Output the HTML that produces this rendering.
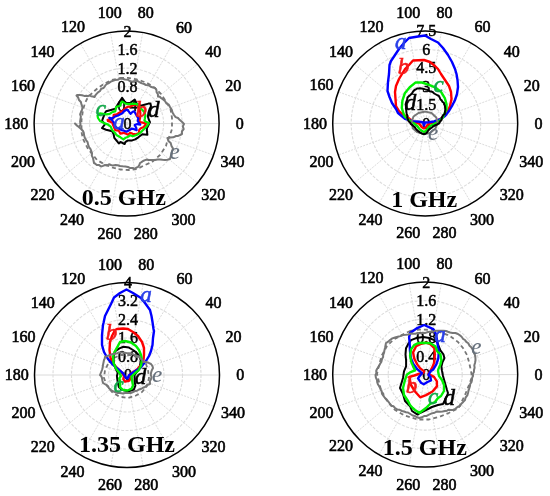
<!DOCTYPE html><html><head><meta charset="utf-8"><style>html,body{margin:0;padding:0;background:#fff;}svg{display:block}text{font-family:"Liberation Serif","Times New Roman",serif;}</style></head><body>
<svg width="550" height="496" viewBox="0 0 550 496">
<rect width="550" height="496" fill="#fff"/>
<g stroke="#dadada" stroke-width="1" fill="none"><line x1="126.6" y1="123.6" x2="219.1" y2="123.6"/><line x1="126.6" y1="123.6" x2="213.5" y2="92" stroke-dasharray="2 1.2" stroke="#dcdcdc"/><line x1="126.6" y1="123.6" x2="197.5" y2="64.1" stroke-dasharray="2 1.2" stroke="#dcdcdc"/><line x1="126.6" y1="123.6" x2="172.8" y2="43.5" stroke-dasharray="2 1.2" stroke="#dcdcdc"/><line x1="126.6" y1="123.6" x2="142.7" y2="32.5" stroke-dasharray="2 1.2" stroke="#dcdcdc"/><line x1="126.6" y1="123.6" x2="110.5" y2="32.5" stroke-dasharray="2 1.2" stroke="#dcdcdc"/><line x1="126.6" y1="123.6" x2="80.4" y2="43.5" stroke-dasharray="2 1.2" stroke="#dcdcdc"/><line x1="126.6" y1="123.6" x2="55.7" y2="64.1" stroke-dasharray="2 1.2" stroke="#dcdcdc"/><line x1="126.6" y1="123.6" x2="39.7" y2="92" stroke-dasharray="2 1.2" stroke="#dcdcdc"/><line x1="126.6" y1="123.6" x2="34.1" y2="123.6"/><line x1="126.6" y1="123.6" x2="39.7" y2="155.2" stroke-dasharray="2 1.2" stroke="#dcdcdc"/><line x1="126.6" y1="123.6" x2="55.7" y2="183.1" stroke-dasharray="2 1.2" stroke="#dcdcdc"/><line x1="126.6" y1="123.6" x2="80.3" y2="203.7" stroke-dasharray="2 1.2" stroke="#dcdcdc"/><line x1="126.6" y1="123.6" x2="110.5" y2="214.7" stroke-dasharray="2 1.2" stroke="#dcdcdc"/><line x1="126.6" y1="123.6" x2="142.7" y2="214.7" stroke-dasharray="2 1.2" stroke="#dcdcdc"/><line x1="126.6" y1="123.6" x2="172.8" y2="203.7" stroke-dasharray="2 1.2" stroke="#dcdcdc"/><line x1="126.6" y1="123.6" x2="197.5" y2="183.1" stroke-dasharray="2 1.2" stroke="#dcdcdc"/><line x1="126.6" y1="123.6" x2="213.5" y2="155.2" stroke-dasharray="2 1.2" stroke="#dcdcdc"/></g>
<g stroke="#dcdcdc" stroke-width="1.1" fill="none" stroke-dasharray="3 1.5"><circle cx="126.6" cy="123.6" r="18.5"/><circle cx="126.6" cy="123.6" r="37"/><circle cx="126.6" cy="123.6" r="55.5"/><circle cx="126.6" cy="123.6" r="74"/></g>
<g font-size="16" text-anchor="middle" fill="#000" stroke="#000" stroke-width="0.5"><text x="127.6" y="129">0</text><text x="127.6" y="110.5">0.4</text><text x="127.6" y="92">0.8</text><text x="127.6" y="73.5">1.2</text><text x="127.6" y="55">1.6</text><text x="127.6" y="36.5">2</text></g>
<path d="M120 78 L128 77.8 L137 79.5 L143 81.5 L147 83 L155 88 L161 94 L165 100 L170.5 109 L172 118 L172 129 L170 135 L167 142 L166 146 L160 155 L152 162 L144 165.5 L137 169 L129 170 L120 169.5 L112 167.5 L104 164 L97 160 L95 157.5 L88 149 L83 139 L81.5 132 L81.5 120 L83 110 L85 103 L88 97 L95 90.5 L98 88 L104 84 L111 80.2 Z" fill="none" stroke="#777777" stroke-width="1.8" stroke-linejoin="round" stroke-dasharray="4 3"/>
<path d="M102 121 L103.1 117.9 L105.1 112.8 L106.1 111.3 L110 110.2 L115.3 108.7 L118 104 L122.1 97.8 L124.4 101.1 L126.5 103.1 L130 103 L134.7 99.6 L137 104 L140.8 105.7 L144.4 104.7 L148.4 103.6 L150.5 103.6 L151 106.2 L149.5 109.2 L148.4 112.8 L147.9 116.4 L148.9 119.9 L150 122.1 L146.9 128.2 L146.9 130.7 L147.4 134.8 L142.3 134.3 L138.3 137.3 L135.2 139.4 L132.1 140.4 L128 140.4 L125.5 141.9 L124.6 144 L120.4 141.9 L118.8 143.4 L116.8 140.9 L114.3 137.8 L113.7 134.3 L112.2 131.2 L106.1 129.7 L102 128.1 L105.1 124.1 Z" fill="none" stroke="#000" stroke-width="2" stroke-linejoin="round"/>
<path d="M107.6 119.9 L110.5 119.5 L113.2 118.4 L113.7 114.8 L116.8 114.3 L119.3 112.8 L121.9 111.3 L123.9 109.7 L126 107.7 L128 106.7 L130.1 106.7 L133.2 105.2 L137 104.5 L140 110 L140.5 116 L139.5 120.5 L139.8 122.1 L142.8 122.6 L145.9 123.6 L145.4 125.1 L143.3 127.2 L140.8 128.2 L139.3 129.7 L138.8 133.3 L135.7 134.3 L132.7 133.8 L130.1 132.8 L128.1 134.8 L124 132.8 L122.9 133.2 L120.4 133.7 L118.8 130.7 L115.3 130.2 L113.5 126 L112.2 122.5 L108 121 Z" fill="none" stroke="#ff0000" stroke-width="2.2" stroke-linejoin="round"/>
<path d="M109.2 117.9 L112.2 118.4 L115.3 116.4 L118 115.5 L120.4 114.3 L122.4 113.3 L124 111.3 L126.5 109.7 L127.1 109.7 L129.1 111.8 L130.6 113.8 L132.7 111.8 L134.2 111.3 L136 114.5 L138.3 118.4 L137.7 121.1 L140.3 124.6 L137.2 124.1 L134.7 125.1 L136.2 127.7 L136.7 130.2 L134.2 129.2 L131.6 128.7 L129.1 130.2 L126.5 131.7 L124 130.7 L121.4 130.2 L120 129 L117 128 L115 126 L114 123 L112 120 Z" fill="none" stroke="#0000ff" stroke-width="2.2" stroke-linejoin="round"/>
<path d="M97.5 115.5 L100 113.3 L103.1 113.8 L106.6 114.3 L109.7 113.8 L112.7 111.8 L115.3 111.3 L115.8 108.7 L116.3 106.7 L118.3 106.2 L120.4 105.7 L120.9 103.6 L121.9 101.6 L123.9 102.6 L125.5 103.6 L129.1 104.1 L133.2 103.6 L137.2 104.1 L140.8 108.2 L144.4 112.3 L145.4 115.3 L144.9 118.4 L144.4 120.5 L146.4 122.1 L148.9 123.1 L147.9 124.6 L146.4 126.7 L144.4 128.7 L142.3 130.7 L140.8 132.3 L137.5 134.5 L135.7 135.3 L132.7 136.3 L130.1 135.3 L127.1 137.3 L125.5 137.8 L123.4 139.3 L120.4 137.3 L116.8 135.3 L114.8 132.7 L112.2 130.2 L110.7 126.6 L108.1 124.6 L104.1 123.1 L100 121 L98 118 Z" fill="none" stroke="#00f000" stroke-width="2.2" stroke-linejoin="round"/>
<path d="M120 78.5 L122.6 78.7 L125 79.5 L127.8 79.7 L130.3 81.3 L133 81.8 L135 81 L137.7 81.1 L140 82.5 L142 83.4 L144.1 84 L146 85 L148.6 85.2 L150.7 86.7 L153 87.5 L155 88 L156.4 89.9 L156.6 92.2 L157.9 94.1 L158 96.5 L159.8 96.7 L161 98 L163.1 99.4 L165 101 L166.3 103.3 L168.8 104.6 L170 107 L171.7 109.5 L172.5 112.4 L174 115 L175.6 117.1 L178 118 L179.9 120.1 L182.1 121.9 L184 124 L182.8 126.4 L183.7 129.1 L181.9 131.4 L182 134 L180.1 135 L178.2 135.9 L176 136 L173.3 137.3 L170.4 137.6 L167.5 138 L168.4 140.9 L170.7 143 L171.5 145.9 L173 148.5 L172 151.1 L171.7 153.8 L170.7 156.4 L170 159 L167.5 159.8 L165 160 L162.5 159.8 L160 159.5 L157.5 159.5 L155 160 L152.5 160.1 L150 160 L148.5 160 L147 159.5 L145 160.1 L143 161 L141.5 162.1 L140 163 L139.3 165.1 L138 167 L136.2 167.6 L135 169 L132.8 168 L130.2 168.1 L128 167 L125.3 166.5 L122.7 166.3 L120 166 L117.8 165.2 L115.5 165.1 L113.2 165.6 L111 165 L109 164.2 L107 165.6 L105 165 L103 165.9 L101 166.5 L99.2 165.1 L96.8 165 L95 163.5 L94 163 L93.5 160.5 L93 158 L91.8 155.6 L92 153 L91.2 150.9 L90.4 148.8 L89 147 L88.1 144.6 L87.6 142.1 L86 140 L84.7 137.6 L84 135 L83.8 132.9 L83 131 L81.1 129 L79.1 127.2 L77 125.4 L75 123.5 L76.9 125.7 L79.5 127 L80.5 124.4 L80.1 121.7 L80.5 119 L80.9 116.7 L80.1 114.3 L81 112 L82.1 109.6 L82.5 107 L81.5 104.6 L80.9 102 L79 100 L78.2 97.5 L76.5 95.5 L77.5 95 L79.8 94.9 L82 95.2 L84.2 95.9 L86.5 95.8 L88 96.2 L89.5 95.4 L91 96.2 L92.8 96.5 L94.5 97 L95.9 94.6 L97.7 92.6 L100 91 L101.2 88.8 L103.6 88 L105 86 L106.6 84 L109 83 L110.8 81.6 L112.9 80.8 L115 80 L117.7 79.8 Z" fill="none" stroke="#777777" stroke-width="2" stroke-linejoin="round"/>
<text x="113.15" y="129.05" font-size="23" font-style="italic" fill="#2a40e8" stroke="#2a40e8" stroke-width="0.6">a</text>
<text x="135.5" y="117.35" font-size="23" font-style="italic" fill="#f51a1a" stroke="#f51a1a" stroke-width="0.6">b</text>
<text x="95.85" y="116.0" font-size="23" font-style="italic" fill="#12a84a" stroke="#12a84a" stroke-width="0.6">c</text>
<text x="148" y="117.3" font-size="23" font-style="italic" fill="#000" stroke="#000" stroke-width="0.6">d</text>
<text x="169.55" y="159.2" font-size="23" font-style="italic" fill="#66707c" stroke="#66707c" stroke-width="0.15">e</text>
<circle cx="126.6" cy="123.6" r="92.5" fill="none" stroke="#000" stroke-width="1.5"/>
<g font-size="16" text-anchor="middle" fill="#000" stroke="#000" stroke-width="0.6"><text x="239.8" y="128.7">0</text><text x="233.2" y="91">20</text><text x="213.2" y="57">40</text><text x="184.1" y="32.6">60</text><text x="145.8" y="18.3">80</text><text x="109.7" y="18.3">100</text><text x="72.9" y="32.4">120</text><text x="42.4" y="57">140</text><text x="23" y="90.6">160</text><text x="16.3" y="128.7">180</text><text x="23" y="166.8">200</text><text x="42.4" y="200.4">220</text><text x="72" y="225.3">240</text><text x="109.6" y="238.5">260</text><text x="145.8" y="238.5">280</text><text x="183.6" y="225.3">300</text><text x="213.2" y="200.4">320</text><text x="232.6" y="166.8">340</text></g>
<text x="123.8" y="205.3" font-size="24" font-weight="bold" text-anchor="middle">0.5 GHz</text>
<g stroke="#dadada" stroke-width="1" fill="none"><line x1="425.2" y1="123.4" x2="517.7" y2="123.4"/><line x1="425.2" y1="123.4" x2="512.1" y2="91.8" stroke-dasharray="2 1.2" stroke="#dcdcdc"/><line x1="425.2" y1="123.4" x2="496.1" y2="63.9" stroke-dasharray="2 1.2" stroke="#dcdcdc"/><line x1="425.2" y1="123.4" x2="471.4" y2="43.3" stroke-dasharray="2 1.2" stroke="#dcdcdc"/><line x1="425.2" y1="123.4" x2="441.3" y2="32.3" stroke-dasharray="2 1.2" stroke="#dcdcdc"/><line x1="425.2" y1="123.4" x2="409.1" y2="32.3" stroke-dasharray="2 1.2" stroke="#dcdcdc"/><line x1="425.2" y1="123.4" x2="378.9" y2="43.3" stroke-dasharray="2 1.2" stroke="#dcdcdc"/><line x1="425.2" y1="123.4" x2="354.3" y2="63.9" stroke-dasharray="2 1.2" stroke="#dcdcdc"/><line x1="425.2" y1="123.4" x2="338.3" y2="91.8" stroke-dasharray="2 1.2" stroke="#dcdcdc"/><line x1="425.2" y1="123.4" x2="332.7" y2="123.4"/><line x1="425.2" y1="123.4" x2="338.3" y2="155" stroke-dasharray="2 1.2" stroke="#dcdcdc"/><line x1="425.2" y1="123.4" x2="354.3" y2="182.9" stroke-dasharray="2 1.2" stroke="#dcdcdc"/><line x1="425.2" y1="123.4" x2="378.9" y2="203.5" stroke-dasharray="2 1.2" stroke="#dcdcdc"/><line x1="425.2" y1="123.4" x2="409.1" y2="214.5" stroke-dasharray="2 1.2" stroke="#dcdcdc"/><line x1="425.2" y1="123.4" x2="441.3" y2="214.5" stroke-dasharray="2 1.2" stroke="#dcdcdc"/><line x1="425.2" y1="123.4" x2="471.4" y2="203.5" stroke-dasharray="2 1.2" stroke="#dcdcdc"/><line x1="425.2" y1="123.4" x2="496.1" y2="182.9" stroke-dasharray="2 1.2" stroke="#dcdcdc"/><line x1="425.2" y1="123.4" x2="512.1" y2="155" stroke-dasharray="2 1.2" stroke="#dcdcdc"/></g>
<g stroke="#dcdcdc" stroke-width="1.1" fill="none" stroke-dasharray="3 1.5"><circle cx="425.2" cy="123.4" r="18.5"/><circle cx="425.2" cy="123.4" r="37"/><circle cx="425.2" cy="123.4" r="55.5"/><circle cx="425.2" cy="123.4" r="74"/></g>
<g font-size="16" text-anchor="middle" fill="#000" stroke="#000" stroke-width="0.5"><text x="426.2" y="128.8">0</text><text x="426.2" y="110.3">1.5</text><text x="426.2" y="91.8">3</text><text x="426.2" y="73.3">4.5</text><text x="426.2" y="54.8">6</text><text x="426.2" y="36.3">7.5</text></g>
<path d="M423.9 128.4 L421.7 126.9 L419.5 124 L415.9 122.5 L412.3 121.1 L406 116 L402 114 L399 111 L396 106 L395.5 99 L395 92 L396 86 L399 79 L402 74 L405 69 L409 65 L413 60.5 L424 60 L430 62 L435 66 L438 69 L441 74 L445 80 L449 86 L451 92 L451.5 99 L450 106 L448 111 L445 115 L441.4 118.2 L437 121.1 L432.6 122.5 L428.3 124 L426.1 126.9 Z" fill="none" stroke="#ff0000" stroke-width="2.4" stroke-linejoin="round"/>
<path d="M423.9 125.5 L423.2 122.5 L419.5 121.8 L412.3 121.1 L405 118.9 L398 113 L396 109 L392 103 L389.5 97 L387.5 91 L388 82 L389 74 L389.5 65 L391 61 L395 55 L399 49 L404 43 L409 38 L418 36.5 L425 35.5 L431 39 L438 42.5 L443 48 L448 55 L452 62 L455 69 L456.5 74 L457.5 80 L458 87 L457 94 L455 100 L452 106 L449 111 L445 116 L440 119.5 L434.1 121.5 L429 122.2 L425 122.5 Z" fill="none" stroke="#0000ff" stroke-width="2.4" stroke-linejoin="round"/>
<path d="M424.6 132 L422.5 131.3 L419.5 129.1 L417.4 126.2 L413.7 123.3 L409.4 120.4 L405 116.7 L403.6 113.9 L401.8 107.8 L402.4 100.6 L404.8 93.3 L409.7 87.3 L415.7 82.4 L422 82.5 L429 84.8 L435.1 87.3 L441.2 92.1 L444.8 98.2 L446.5 104.2 L446.5 109 L444.8 113 L442.8 117.5 L438.5 121.8 L434.1 124 L429.7 126.2 L426.8 129.8 Z" fill="none" stroke="#00f000" stroke-width="2.4" stroke-linejoin="round"/>
<path d="M425.4 111.6 L418.5 113 L413.5 116.5 L411.5 122.5 L413 128.4 L417 132 L424 134 L430 133 L435.5 128.4 L437.7 122.5 L436.3 117.5 L431.5 113 Z" fill="none" stroke="#777777" stroke-width="2" stroke-linejoin="round"/>
<path d="M423.9 134.2 L422 133.6 L420.3 132.7 L418.9 131.6 L417.4 130.5 L415.9 128.8 L414.5 126.9 L412.7 125.4 L410.8 124 L410 122.4 L408.6 121.2 L408 119.5 L407.2 117.7 L407.5 115.8 L406.8 114 L406.4 112.2 L406.3 110.3 L405.9 108.4 L406.2 106.4 L405.6 104.5 L406.2 102.2 L407.1 99.9 L407.5 97.5 L409 96.1 L410.6 94.8 L412.1 93.3 L413.1 91.5 L414.5 90 L415.8 89.3 L417 88.5 L418.5 88.6 L420 88.2 L421.5 88.5 L423 88.8 L425.4 89.4 L427.8 89.7 L428.8 90.7 L430 91.5 L431.4 91.5 L432.7 92.1 L434.2 93.5 L436 94.5 L437.3 95.2 L438.7 95.7 L439.7 97.5 L440.5 99.5 L441.7 100.4 L442.4 101.8 L444 103 L444.1 104.3 L444.8 105.4 L445.1 107.7 L445.3 110 L444.9 111.9 L444.8 113.9 L443.4 114.9 L442.4 116.3 L441.8 118.1 L441.5 120 L440.1 121.5 L439.2 123.3 L437 124.5 L434.8 125.5 L433.2 126.3 L432 127.5 L430.5 128.4 L429 129.6 L427.8 131.1 L426.8 132.7 L425.5 133.7 Z" fill="none" stroke="#000" stroke-width="2" stroke-linejoin="round"/>
<text x="395.0" y="48.5" font-size="23" font-style="italic" fill="#2a40e8" stroke="#2a40e8" stroke-width="0.6">a</text>
<text x="397.7" y="74.4" font-size="23" font-style="italic" fill="#f51a1a" stroke="#f51a1a" stroke-width="0.6">b</text>
<text x="433.6" y="92.2" font-size="23" font-style="italic" fill="#12a84a" stroke="#12a84a" stroke-width="0.6">c</text>
<text x="404.75" y="110.35" font-size="23" font-style="italic" fill="#000" stroke="#000" stroke-width="0.6">d</text>
<text x="428" y="140.35" font-size="23" font-style="italic" fill="#66707c" stroke="#66707c" stroke-width="0.15">e</text>
<circle cx="425.2" cy="123.4" r="92.5" fill="none" stroke="#000" stroke-width="1.5"/>
<g font-size="16" text-anchor="middle" fill="#000" stroke="#000" stroke-width="0.6"><text x="538.4" y="128.5">0</text><text x="531.8" y="90.8">20</text><text x="511.8" y="56.8">40</text><text x="482.6" y="32.4">60</text><text x="444.4" y="18.1">80</text><text x="408.3" y="18.1">100</text><text x="371.4" y="32.2">120</text><text x="341" y="56.8">140</text><text x="321.6" y="90.4">160</text><text x="314.9" y="128.5">180</text><text x="321.6" y="166.6">200</text><text x="341" y="200.2">220</text><text x="370.6" y="225.1">240</text><text x="408.2" y="238.3">260</text><text x="444.4" y="238.3">280</text><text x="482.1" y="225.1">300</text><text x="511.8" y="200.2">320</text><text x="531.2" y="166.6">340</text></g>
<text x="424.2" y="207" font-size="24" font-weight="bold" text-anchor="middle">1 GHz</text>
<g stroke="#dadada" stroke-width="1" fill="none"><line x1="127" y1="375" x2="219.5" y2="375"/><line x1="127" y1="375" x2="213.9" y2="343.4" stroke-dasharray="2 1.2" stroke="#dcdcdc"/><line x1="127" y1="375" x2="197.9" y2="315.5" stroke-dasharray="2 1.2" stroke="#dcdcdc"/><line x1="127" y1="375" x2="173.2" y2="294.9" stroke-dasharray="2 1.2" stroke="#dcdcdc"/><line x1="127" y1="375" x2="143.1" y2="283.9" stroke-dasharray="2 1.2" stroke="#dcdcdc"/><line x1="127" y1="375" x2="110.9" y2="283.9" stroke-dasharray="2 1.2" stroke="#dcdcdc"/><line x1="127" y1="375" x2="80.8" y2="294.9" stroke-dasharray="2 1.2" stroke="#dcdcdc"/><line x1="127" y1="375" x2="56.1" y2="315.5" stroke-dasharray="2 1.2" stroke="#dcdcdc"/><line x1="127" y1="375" x2="40.1" y2="343.4" stroke-dasharray="2 1.2" stroke="#dcdcdc"/><line x1="127" y1="375" x2="34.5" y2="375"/><line x1="127" y1="375" x2="40.1" y2="406.6" stroke-dasharray="2 1.2" stroke="#dcdcdc"/><line x1="127" y1="375" x2="56.1" y2="434.5" stroke-dasharray="2 1.2" stroke="#dcdcdc"/><line x1="127" y1="375" x2="80.7" y2="455.1" stroke-dasharray="2 1.2" stroke="#dcdcdc"/><line x1="127" y1="375" x2="110.9" y2="466.1" stroke-dasharray="2 1.2" stroke="#dcdcdc"/><line x1="127" y1="375" x2="143.1" y2="466.1" stroke-dasharray="2 1.2" stroke="#dcdcdc"/><line x1="127" y1="375" x2="173.2" y2="455.1" stroke-dasharray="2 1.2" stroke="#dcdcdc"/><line x1="127" y1="375" x2="197.9" y2="434.5" stroke-dasharray="2 1.2" stroke="#dcdcdc"/><line x1="127" y1="375" x2="213.9" y2="406.6" stroke-dasharray="2 1.2" stroke="#dcdcdc"/></g>
<g stroke="#dcdcdc" stroke-width="1.1" fill="none" stroke-dasharray="3 1.5"><circle cx="127.0" cy="375.0" r="18.5"/><circle cx="127.0" cy="375.0" r="37"/><circle cx="127.0" cy="375.0" r="55.5"/><circle cx="127.0" cy="375.0" r="74"/></g>
<g font-size="16" text-anchor="middle" fill="#000" stroke="#000" stroke-width="0.5"><text x="128" y="380.4">0</text><text x="128" y="361.9">0.8</text><text x="128" y="343.4">1.6</text><text x="128" y="324.9">2.4</text><text x="128" y="306.4">3.2</text><text x="128" y="287.9">4</text></g>
<path d="M108 364 L105 370 L104 378 L107 386 L112 392 L119 396.5 L128 398 L136 395.5 L142 392 L147 386 L149 378 L148 370 L146 364 L140 358 L130 355 L120 355 L112 359 Z" fill="none" stroke="#777777" stroke-width="1.8" stroke-linejoin="round" stroke-dasharray="4 3"/>
<path d="M115.3 351.3 L119.4 348.4 L123.4 346.8 L129 347.6 L133 350 L136.2 352.4 L138.6 355 L140.8 360 L140 366 L137.8 371 L134.6 375 L134.6 381.6 L135.4 385.6 L133.8 389.7 L128.2 391.3 L121.7 389.7 L118.8 387 L117.5 381 L116.9 376 L117.7 372.7 L115.5 368.5 L113.8 363 L113.5 357 Z" fill="none" stroke="#000" stroke-width="2" stroke-linejoin="round"/>
<path d="M117 329 L123 328.5 L128 329 L133 332 L138 336 L142 342 L144 348 L144 355 L143.5 359.8 L141 365 L137 369.5 L132.2 372.7 L129.8 374.4 L131.4 377.6 L129 380.8 L124.9 381.6 L123.3 379.2 L124.1 376 L121.7 372.7 L117.7 368.7 L112.8 363.1 L110.5 358 L109.5 350 L110 342 L112 336 L115 330 Z" fill="none" stroke="#ff0000" stroke-width="2.4" stroke-linejoin="round"/>
<path d="M126.5 289.5 L133 293 L141 298 L145 303 L150 310 L151.5 316 L152.5 322 L153.5 329 L154 331 L153 338 L152.5 345 L151 351 L149 356 L146 361 L143.5 364 L140.3 367.9 L135.4 371.1 L129 375.2 L127.5 378.5 L125.7 377.6 L123.3 373.5 L118.5 369.5 L112.8 364.7 L108 359 L104 352 L102 345 L102 335 L103 325 L103.5 323 L105 316 L108 310 L111 304 L114 297.5 L120 293 Z" fill="none" stroke="#0000ff" stroke-width="2.4" stroke-linejoin="round"/>
<path d="M120 342 L125 341 L131 342.5 L136 346 L139 350 L141 355 L141.9 359.8 L141.1 365.5 L138.6 370.3 L134.6 373.5 L131.4 376.8 L132.2 380.8 L133 385.6 L131.4 388.9 L127.4 390.5 L122.5 389.7 L120.1 387.3 L120.1 381.6 L119.3 378.4 L120.9 376 L119.3 372.7 L116.1 368.7 L113.6 363.1 L113 357 L114.5 352 L117.7 346.4 Z" fill="none" stroke="#00f000" stroke-width="2.4" stroke-linejoin="round"/>
<path d="M110 355 L111.5 354.4 L113 354 L115 353.5 L117.1 353.4 L119 352.4 L121.5 352.6 L124 352.8 L126.5 353.1 L129 353.2 L131.7 353.6 L134.2 354.8 L136.8 355.7 L139.4 356.4 L140.4 358.5 L142.5 359.9 L143.4 362 L146 362 L148.6 362.8 L151 364 L152.4 365.8 L153 368 L151.7 370.4 L151 373 L150.8 375 L151.5 377 L151 379 L149.9 381.4 L150 384 L147.2 385 L145 387 L142.9 387.8 L141 389 L139 389.5 L137.1 390.7 L135 391 L133 392 L130.6 393.1 L128 393 L125.3 393 L122.7 393.5 L120 393 L117.4 392.9 L115 392 L112.9 391.3 L111 390 L109 388.3 L108 386 L105.5 384.5 L103 383 L102.4 380.5 L102 378 L101.3 376.3 L100 375 L101 372.5 L102 370 L102.7 367.5 L103 365 L103.5 362.5 L104 360 L104.7 358.6 L105 357 L107.5 356 Z" fill="none" stroke="#777777" stroke-width="2" stroke-linejoin="round"/>
<text x="140.25" y="301.75" font-size="23" font-style="italic" fill="#2a40e8" stroke="#2a40e8" stroke-width="0.6">a</text>
<text x="105.85" y="339.55" font-size="23" font-style="italic" fill="#f51a1a" stroke="#f51a1a" stroke-width="0.6">b</text>
<text x="113.4" y="391.85" font-size="23" font-style="italic" fill="#12a84a" stroke="#12a84a" stroke-width="0.6">c</text>
<text x="134.85" y="384.25" font-size="23" font-style="italic" fill="#000" stroke="#000" stroke-width="0.6">d</text>
<text x="152" y="381.7" font-size="23" font-style="italic" fill="#66707c" stroke="#66707c" stroke-width="0.15">e</text>
<circle cx="127.0" cy="375.0" r="92.5" fill="none" stroke="#000" stroke-width="1.5"/>
<g font-size="16" text-anchor="middle" fill="#000" stroke="#000" stroke-width="0.6"><text x="240.2" y="380.1">0</text><text x="233.6" y="342.4">20</text><text x="213.6" y="308.4">40</text><text x="184.4" y="284">60</text><text x="146.2" y="269.7">80</text><text x="110.1" y="269.7">100</text><text x="73.3" y="283.8">120</text><text x="42.8" y="308.4">140</text><text x="23.4" y="342">160</text><text x="16.7" y="380.1">180</text><text x="23.4" y="418.2">200</text><text x="42.8" y="451.8">220</text><text x="72.4" y="476.7">240</text><text x="110" y="489.9">260</text><text x="146.2" y="489.9">280</text><text x="183.9" y="476.7">300</text><text x="213.6" y="451.8">320</text><text x="233" y="418.2">340</text></g>
<text x="127" y="451.8" font-size="24" font-weight="bold" text-anchor="middle">1.35 GHz</text>
<g stroke="#dadada" stroke-width="1" fill="none"><line x1="425.2" y1="374.6" x2="517.7" y2="374.6"/><line x1="425.2" y1="374.6" x2="512.1" y2="343" stroke-dasharray="2 1.2" stroke="#dcdcdc"/><line x1="425.2" y1="374.6" x2="496.1" y2="315.1" stroke-dasharray="2 1.2" stroke="#dcdcdc"/><line x1="425.2" y1="374.6" x2="471.4" y2="294.5" stroke-dasharray="2 1.2" stroke="#dcdcdc"/><line x1="425.2" y1="374.6" x2="441.3" y2="283.5" stroke-dasharray="2 1.2" stroke="#dcdcdc"/><line x1="425.2" y1="374.6" x2="409.1" y2="283.5" stroke-dasharray="2 1.2" stroke="#dcdcdc"/><line x1="425.2" y1="374.6" x2="378.9" y2="294.5" stroke-dasharray="2 1.2" stroke="#dcdcdc"/><line x1="425.2" y1="374.6" x2="354.3" y2="315.1" stroke-dasharray="2 1.2" stroke="#dcdcdc"/><line x1="425.2" y1="374.6" x2="338.3" y2="343" stroke-dasharray="2 1.2" stroke="#dcdcdc"/><line x1="425.2" y1="374.6" x2="332.7" y2="374.6"/><line x1="425.2" y1="374.6" x2="338.3" y2="406.2" stroke-dasharray="2 1.2" stroke="#dcdcdc"/><line x1="425.2" y1="374.6" x2="354.3" y2="434.1" stroke-dasharray="2 1.2" stroke="#dcdcdc"/><line x1="425.2" y1="374.6" x2="378.9" y2="454.7" stroke-dasharray="2 1.2" stroke="#dcdcdc"/><line x1="425.2" y1="374.6" x2="409.1" y2="465.7" stroke-dasharray="2 1.2" stroke="#dcdcdc"/><line x1="425.2" y1="374.6" x2="441.3" y2="465.7" stroke-dasharray="2 1.2" stroke="#dcdcdc"/><line x1="425.2" y1="374.6" x2="471.4" y2="454.7" stroke-dasharray="2 1.2" stroke="#dcdcdc"/><line x1="425.2" y1="374.6" x2="496.1" y2="434.1" stroke-dasharray="2 1.2" stroke="#dcdcdc"/><line x1="425.2" y1="374.6" x2="512.1" y2="406.2" stroke-dasharray="2 1.2" stroke="#dcdcdc"/></g>
<g stroke="#dcdcdc" stroke-width="1.1" fill="none" stroke-dasharray="3 1.5"><circle cx="425.2" cy="374.6" r="18.5"/><circle cx="425.2" cy="374.6" r="37"/><circle cx="425.2" cy="374.6" r="55.5"/><circle cx="425.2" cy="374.6" r="74"/></g>
<g font-size="16" text-anchor="middle" fill="#000" stroke="#000" stroke-width="0.5"><text x="426.2" y="380">0</text><text x="426.2" y="361.5">0.4</text><text x="426.2" y="343">0.8</text><text x="426.2" y="324.5">1.2</text><text x="426.2" y="306">1.6</text><text x="426.2" y="287.5">2</text></g>
<path d="M410 331 L420 329.5 L435 330 L450 336 L458 342 L463 348 L467 355 L469 362 L471 371 L472 377 L469 385 L465 395 L458.6 408 L448.7 413 L440.6 416.3 L429 419.5 L417.6 419.5 L404.5 415.5 L394.7 409.7 L388 402 L382 394 L379 382 L377 374 L379 365 L382 355 L387 346 L393 340 L400 336 Z" fill="none" stroke="#777777" stroke-width="1.8" stroke-linejoin="round" stroke-dasharray="4 3"/>
<path d="M406 348.2 L408.1 344.2 L411.1 340.2 L416.1 338.1 L423.2 337.1 L429.3 338.1 L434.3 340.2 L437.3 342.2 L438.3 345.2 L440.4 350.3 L443.4 354.3 L444.4 358.3 L442.4 362.4 L441.4 366.4 L441.9 370.4 L443 376 L445 383 L447 390 L448 393 L446 398 L443 404 L438 405 L432 407 L426 410 L420 413 L417.6 414.6 L412 411 L410.3 406.5 L405 401 L403 394 L400 388 L403 378 L404 371.4 L406.1 366.4 L406.1 360.3 L405.5 354.3 Z" fill="none" stroke="#000" stroke-width="2" stroke-linejoin="round"/>
<path d="M420.2 344.2 L426.2 342.7 L430.3 344.2 L434.3 348.2 L434.8 354.3 L434.3 362.4 L432.3 367.4 L430 371.6 L428.4 374 L431.6 375.6 L434 376.9 L436.9 381.3 L436.9 386.4 L432.5 391.5 L426 395.1 L420.2 397.3 L415 391.5 L411 385 L409.3 376.9 L414.4 375.5 L418.7 374 L422.8 373.2 L424.2 371.4 L420.2 368.4 L417.2 364.4 L414.1 358.3 L413.1 352.3 L416.1 346.2 Z" fill="none" stroke="#ff0000" stroke-width="2.4" stroke-linejoin="round"/>
<path d="M424.2 325 L433.3 329.1 L436 334 L437.3 342.2 L438.3 348.2 L438.8 352.3 L438.3 358.3 L436.3 364.4 L433.3 369.4 L430.8 371 L428.4 374.8 L430.4 376.9 L431 380.5 L427.5 382 L423.8 384.2 L420.9 382.7 L418 378.4 L419.5 376.2 L422 373.2 L417.2 369.2 L413.2 363.6 L410.8 358 L410 351 L409.6 342.2 L409.1 337.1 L410.1 333.1 L417.2 328.1 Z" fill="none" stroke="#0000ff" stroke-width="2.4" stroke-linejoin="round"/>
<path d="M418.2 343.2 L423.2 342.7 L430.3 343.2 L435.3 346.2 L437.3 351.3 L440.4 354.3 L441.4 360.3 L440.4 364.4 L438.3 369.4 L438 371 L439 376 L442 380 L444 385 L444 391 L441 396 L438 398 L435 402 L430 404 L426 408 L419.3 413 L415 410 L412.7 408 L410 405 L408 401 L404 395 L403 388 L405 380 L406.8 374.8 L410 372.4 L415.1 370.4 L413.1 366.4 L411.1 361.4 L410.1 355.3 L411.1 349.2 L414.1 345.2 Z" fill="none" stroke="#00f000" stroke-width="2.4" stroke-linejoin="round"/>
<path d="M395 337.5 L397.7 336.8 L400.4 336.1 L403 335 L405.7 334.8 L408.4 334.4 L411 333.5 L413.3 333.7 L415.5 333.8 L417.7 332.9 L420 333.3 L422.7 332.8 L425.4 332.9 L428 332 L430.5 331.8 L433 331.8 L435.5 330.7 L438 330.8 L440.7 330.8 L443.3 330.7 L446 331 L448 331.8 L450 332.5 L452.7 333.1 L455.4 333 L458 334 L459.9 335.3 L461.6 336.8 L463 338.8 L465 340 L466.3 341.9 L468.3 343.3 L469.3 345.4 L471 347 L472.7 349.5 L473.6 352.4 L475 355 L475.4 357.7 L475.5 360.3 L475 363 L474.3 365.3 L474.6 367.7 L474 370 L473.9 372 L472.9 373.9 L473 376 L472.1 377.9 L472 380 L471.5 382.1 L470.2 383.9 L470 386 L469.3 388.3 L468.5 390.6 L468 393 L467.3 395.4 L465.6 397.5 L465 400 L463.2 401.9 L461.3 403.7 L460 406 L457.5 407 L455.4 408.8 L453 410 L450.8 410 L448.7 409.7 L447 410.7 L445 411 L442.5 411.5 L439.9 411.7 L437.3 411.4 L434.6 412.7 L431.7 413.4 L429 414.6 L426.7 415.9 L424.1 416.1 L421.8 417.3 L419.3 418 L417 417.3 L415 416 L412.7 415.5 L410.3 414 L408 412.5 L406 412.2 L404 411.5 L402 411 L399.7 409.8 L397.2 409.4 L395 408 L393.6 406.3 L391.4 405.7 L390 404 L388.5 401.8 L386.9 399.8 L385 398 L383.6 396.2 L383.3 393.9 L382 392 L380.9 390.1 L380.1 388 L379 386 L377.9 384.2 L377.2 382.1 L377 380 L375.9 377.6 L375.5 375 L376.4 373.1 L376.2 370.9 L377 369 L378.7 366.6 L380 364 L381.4 361.7 L382 359 L383.1 357.1 L383.2 355 L384 353 L384.4 350.5 L385 348 L385.5 345.5 L386 343 L388.2 341.7 L390 340 L392.3 338.4 Z" fill="none" stroke="#777777" stroke-width="2" stroke-linejoin="round"/>
<text x="434.25" y="342.25" font-size="23" font-style="italic" fill="#2a40e8" stroke="#2a40e8" stroke-width="0.6">a</text>
<text x="405.75" y="393.2" font-size="23" font-style="italic" fill="#f51a1a" stroke="#f51a1a" stroke-width="0.6">b</text>
<text x="427.9" y="403.85" font-size="23" font-style="italic" fill="#12a84a" stroke="#12a84a" stroke-width="0.6">c</text>
<text x="443.5" y="404.7" font-size="23" font-style="italic" fill="#000" stroke="#000" stroke-width="0.6">d</text>
<text x="471.25" y="353.75" font-size="23" font-style="italic" fill="#66707c" stroke="#66707c" stroke-width="0.15">e</text>
<circle cx="425.2" cy="374.6" r="92.5" fill="none" stroke="#000" stroke-width="1.5"/>
<g font-size="16" text-anchor="middle" fill="#000" stroke="#000" stroke-width="0.6"><text x="538.4" y="379.7">0</text><text x="531.8" y="342">20</text><text x="511.8" y="308">40</text><text x="482.6" y="283.6">60</text><text x="444.4" y="269.3">80</text><text x="408.3" y="269.3">100</text><text x="371.4" y="283.4">120</text><text x="341" y="308">140</text><text x="321.6" y="341.6">160</text><text x="314.9" y="379.7">180</text><text x="321.6" y="417.8">200</text><text x="341" y="451.4">220</text><text x="370.6" y="476.3">240</text><text x="408.2" y="489.5">260</text><text x="444.4" y="489.5">280</text><text x="482.1" y="476.3">300</text><text x="511.8" y="451.4">320</text><text x="531.2" y="417.8">340</text></g>
<text x="424.8" y="455.3" font-size="24" font-weight="bold" text-anchor="middle">1.5 GHz</text>
</svg></body></html>
